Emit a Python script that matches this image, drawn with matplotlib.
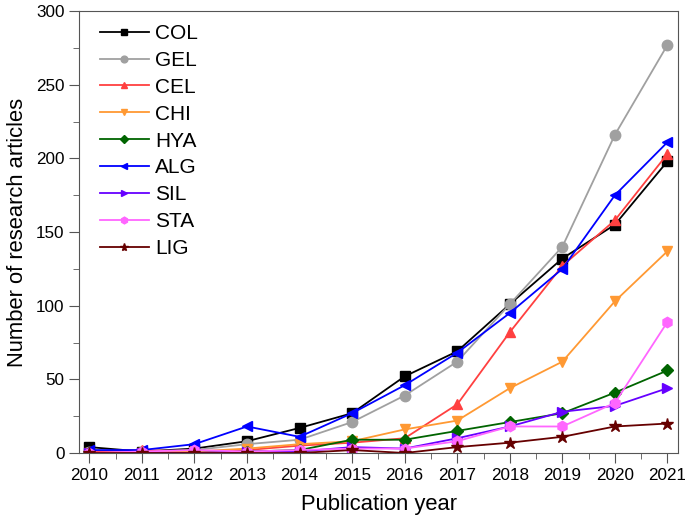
import numpy as np
import matplotlib.pyplot as plt
from matplotlib.ticker import MultipleLocator

plt.rcParams['font.family'] = ['Liberation Sans', 'DejaVu Sans']

years = list(range(2010, 2022))

COL = [4, 1, 3, 8, 17, 27, 52, 69, 101, 132, 155, 198]
GEL = [1, 1, 2, 6, 9, 21, 39, 62, 101, 140, 216, 277]
CEL = [1, 2, 1, 2, 5, 7, 10, 33, 82, 127, 158, 203]
CHI = [0, 0, 1, 3, 6, 8, 16, 22, 44, 62, 103, 137]
HYA = [0, 0, 0, 1, 2, 9, 9, 15, 21, 27, 41, 56]
ALG = [2, 2, 6, 18, 11, 27, 46, 68, 95, 125, 175, 211]
SIL = [0, 0, 0, 1, 1, 4, 3, 10, 18, 28, 32, 44]
STA = [0, 1, 2, 1, 2, 3, 3, 8, 18, 18, 34, 89]
LIG = [0, 0, 0, 0, 0, 2, 0, 4, 7, 11, 18, 20]

series = [
    ('COL', COL, 'black', 's'),
    ('GEL', GEL, '#a0a0a0', 'o'),
    ('CEL', CEL, '#ff4040', '^'),
    ('CHI', CHI, '#ff9933', 'v'),
    ('HYA', HYA, '#006400', 'D'),
    ('ALG', ALG, '#0000ff', '<'),
    ('SIL', SIL, '#6600ff', '>'),
    ('STA', STA, '#ff66ff', 'h'),
    ('LIG', LIG, '#660000', '*'),
]

fig = plt.figure(figsize=(6.85, 5.24), dpi=100)
ax = fig.add_axes([79.3 / 685, 1 - 453 / 524, (678 - 79.3) / 685, (453 - 11) / 524])

for name, vals, color, marker in series:
    ms = 9 if marker == '*' else 7.5
    if marker == 'D':
        ms = 6.5
    ax.plot(years, vals, color=color, marker=marker, markersize=ms,
            linewidth=1.3, label=name)

ax.set_xlim(2009.81, 2021.2)
ax.set_ylim(0, 300)
ax.xaxis.set_major_locator(MultipleLocator(1))
ax.xaxis.set_minor_locator(MultipleLocator(0.5))
ax.yaxis.set_major_locator(MultipleLocator(50))
ax.yaxis.set_minor_locator(MultipleLocator(25))
ax.tick_params(which='both', direction='out', color='#555555', labelsize=12.3,
               top=False, right=False)
ax.tick_params(which='major', length=7)
ax.tick_params(which='minor', length=4)
for sp in ax.spines.values():
    sp.set_color('#555555')

ax.set_xlabel('Publication year', fontsize=15.8, labelpad=8)
ax.set_ylabel('Number of research articles', fontsize=15.8, labelpad=6)

ax.legend(loc='upper left', bbox_to_anchor=(0.024, 0.985), frameon=False,
          fontsize=15, handlelength=2.35, labelspacing=0.38,
          borderaxespad=0, borderpad=0.3, handletextpad=0.3,
          markerscale=0.65)

fig.savefig('out.png', dpi=100)
